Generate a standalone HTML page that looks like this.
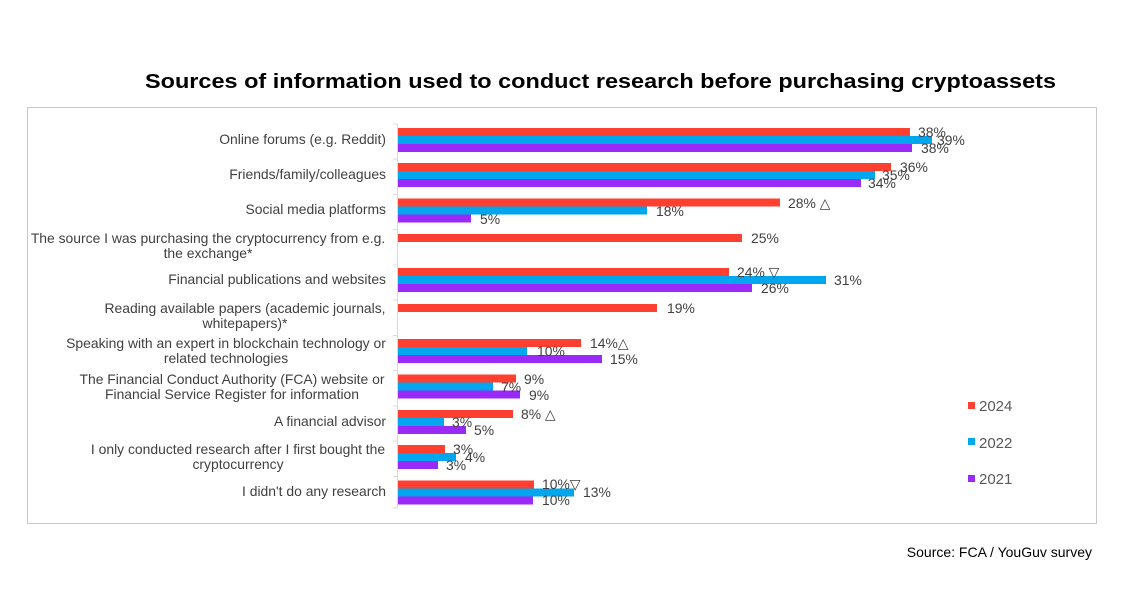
<!DOCTYPE html>
<html><head><meta charset="utf-8"><style>
html,body{margin:0;padding:0;background:#fff;}
svg{display:block;font-family:"Liberation Sans",Arial,sans-serif;}
</style></head><body>
<svg width="1121" height="600" viewBox="0 0 1121 600" xmlns="http://www.w3.org/2000/svg">
<text x="145" y="88" font-size="20.5" font-weight="bold" fill="#000" textLength="911" lengthAdjust="spacingAndGlyphs">Sources of information used to conduct research before purchasing cryptoassets</text>
<rect x="27.5" y="107.5" width="1069" height="416" fill="none" stroke="#c8c8c8" stroke-width="1"/>
<line x1="397.5" y1="124" x2="397.5" y2="508" stroke="#d9d9d9"/>
<g stroke="#d9d9d9">
<line x1="393" x2="397" y1="124" y2="124"/><line x1="393" x2="397" y1="159" y2="159"/><line x1="393" x2="397" y1="194.5" y2="194.5"/><line x1="393" x2="397" y1="229.5" y2="229.5"/><line x1="393" x2="397" y1="265" y2="265"/><line x1="393" x2="397" y1="300" y2="300"/><line x1="393" x2="397" y1="335.5" y2="335.5"/><line x1="393" x2="397" y1="370.5" y2="370.5"/><line x1="393" x2="397" y1="406" y2="406"/><line x1="393" x2="397" y1="441" y2="441"/><line x1="393" x2="397" y1="476.5" y2="476.5"/><line x1="393" x2="397" y1="508" y2="508"/>
</g>
<g font-size="13.9" fill="#404040" text-anchor="end">
<text x="386" y="144">Online forums (e.g. Reddit)</text>
<text x="386" y="179">Friends/family/colleagues</text>
<text x="386" y="214">Social media platforms</text>
<text x="386" y="284">Financial publications and websites</text>
<text x="386" y="426">A financial advisor</text>
<text x="386" y="496">I didn't do any research</text>
</g>
<g font-size="13.9" fill="#404040" text-anchor="middle">
<text x="208" y="243">The source I was purchasing the cryptocurrency from e.g.</text>
<text x="208" y="258">the exchange*</text>
<text x="245" y="313">Reading available papers (academic journals,</text>
<text x="245" y="328">whitepapers)*</text>
<text x="226" y="348">Speaking with an expert in blockchain technology or</text>
<text x="226" y="363">related technologies</text>
<text x="232" y="384">The Financial Conduct Authority (FCA) website or</text>
<text x="232" y="399">Financial Service Register for information</text>
<text x="238" y="454">I only conducted research after I first bought the</text>
<text x="238" y="469">cryptocurrency</text>
</g>
<g>
<rect x="398" y="128" width="512" height="8" fill="#ff3f2f"/>
<rect x="398" y="136" width="534" height="8" fill="#00a6ee"/>
<rect x="398" y="144" width="514" height="8" fill="#9a2af8"/>
<rect x="398" y="163" width="493" height="8" fill="#ff3f2f"/>
<rect x="398" y="171" width="477" height="8" fill="#00a6ee"/>
<rect x="398" y="179" width="463" height="8" fill="#9a2af8"/>
<rect x="398" y="198.5" width="382" height="8" fill="#ff3f2f"/>
<rect x="398" y="206.5" width="249" height="8" fill="#00a6ee"/>
<rect x="398" y="214.5" width="73" height="8" fill="#9a2af8"/>
<rect x="398" y="234" width="344" height="8" fill="#ff3f2f"/>
<rect x="398" y="268" width="331" height="8" fill="#ff3f2f"/>
<rect x="398" y="276" width="428" height="8" fill="#00a6ee"/>
<rect x="398" y="284" width="354" height="8" fill="#9a2af8"/>
<rect x="398" y="304" width="259" height="8" fill="#ff3f2f"/>
<rect x="398" y="339" width="183" height="8" fill="#ff3f2f"/>
<rect x="398" y="347" width="129" height="8" fill="#00a6ee"/>
<rect x="398" y="355" width="204" height="8" fill="#9a2af8"/>
<rect x="398" y="374.5" width="118" height="8" fill="#ff3f2f"/>
<rect x="398" y="382.5" width="95" height="8" fill="#00a6ee"/>
<rect x="398" y="390.5" width="122" height="8" fill="#9a2af8"/>
<rect x="398" y="410" width="115" height="8" fill="#ff3f2f"/>
<rect x="398" y="418" width="46" height="8" fill="#00a6ee"/>
<rect x="398" y="426" width="68" height="8" fill="#9a2af8"/>
<rect x="398" y="445" width="47" height="8" fill="#ff3f2f"/>
<rect x="398" y="453" width="58" height="8" fill="#00a6ee"/>
<rect x="398" y="461" width="40" height="8" fill="#9a2af8"/>
<rect x="398" y="480.5" width="136" height="8" fill="#ff3f2f"/>
<rect x="398" y="488.5" width="176" height="8" fill="#00a6ee"/>
<rect x="398" y="496.5" width="135" height="8" fill="#9a2af8"/>
</g>
<g font-size="13.9" fill="#404040">
<text x="918" y="137">38%</text><text x="937" y="145">39%</text><text x="921" y="153">38%</text>
<text x="900" y="172">36%</text><text x="882" y="180">35%</text><text x="868" y="188">34%</text>
<text x="788" y="208">28% △</text><text x="656" y="216">18%</text><text x="480" y="224">5%</text>
<text x="751" y="243">25%</text>
<text x="737" y="277">24% ▽</text><text x="834" y="285">31%</text><text x="761" y="293">26%</text>
<text x="667" y="313">19%</text>
<text x="590" y="348">14%△</text><text x="537" y="356">10%</text><text x="610" y="364">15%</text>
<text x="524" y="384">9%</text><text x="501" y="392">7%</text><text x="529" y="400">9%</text>
<text x="521" y="419">8% △</text><text x="452" y="427">3%</text><text x="474" y="435">5%</text>
<text x="453" y="454">3%</text><text x="465" y="462">4%</text><text x="446" y="470">3%</text>
<text x="542" y="489">10%▽</text><text x="583" y="497">13%</text><text x="542" y="505">10%</text>
</g>
<rect x="968" y="402" width="7" height="7" fill="#ff3f2f"/>
<rect x="968" y="438" width="7" height="7" fill="#00a6ee"/>
<rect x="968" y="475" width="7" height="7" fill="#9a2af8"/>
<g font-size="15" fill="#595959">
<text x="979" y="411">2024</text>
<text x="979" y="448">2022</text>
<text x="979" y="484">2021</text>
</g>
<text x="1092" y="557" font-size="14" fill="#000" text-anchor="end">Source: FCA / YouGuv survey</text>
</svg>
</body></html>
